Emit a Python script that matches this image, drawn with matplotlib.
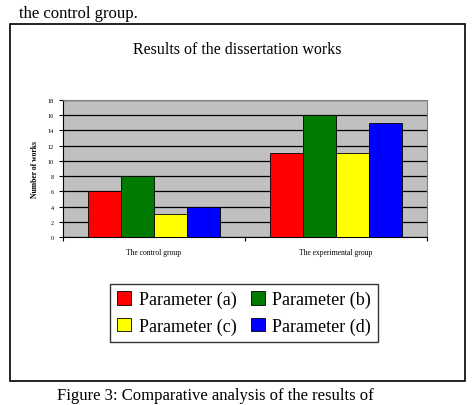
import matplotlib
matplotlib.use("Agg")
import matplotlib.pyplot as plt
import numpy as np
from matplotlib.patches import Rectangle

categories = ["The control group", "The experimental group"]
series = ["Parameter (a)", "Parameter (b)", "Parameter (c)", "Parameter (d)"]
values = {
    "Parameter (a)": [6, 11],
    "Parameter (b)": [8, 16],
    "Parameter (c)": [3, 11],
    "Parameter (d)": [4, 15],
}
colors = ["#ff0000", "#007a00", "#ffff00", "#0000ff"]
yticks = list(range(0, 19, 2))

plt.rcParams['font.family'] = ['Liberation Serif', 'DejaVu Serif']
fig = plt.figure(figsize=(4.74, 4.06), dpi=100)
fig.patch.set_facecolor("white")
fig.patches.append(Rectangle((10/474, 1-382/406), 455/474, 357/406, transform=fig.transFigure,
                             fill=False, edgecolor="black", linewidth=1.2))
fig.text(0.04, 0.985, "the control group.", fontsize=12, va="top")
fig.text(0.12, 0.005, "Figure 3: Comparative analysis of the results of", fontsize=12, va="bottom")
fig.text(0.5, 1-50/406, "Results of the dissertation works", ha="center", va="center", fontsize=11.5)

ax = fig.add_axes([63/474, 1-238/406, 364/474, 137/406])
ax.set_facecolor("#c0c0c0")
x = np.arange(len(categories))
w = 0.182
for i, (s, c) in enumerate(zip(series, colors)):
    ax.bar(x + (i - 1.5) * w, values[s], w, color=c, edgecolor="black", linewidth=0.6, label=s, zorder=3)
ax.set_xlim(-0.5, 1.5)
ax.set_ylim(0, 18)
ax.set_yticks(yticks)
ax.set_yticklabels([str(t) for t in yticks], fontsize=4.5)
ax.yaxis.grid(True, color="black", linewidth=0.9, zorder=0)
ax.set_xticks([-0.5, 0.5, 1.5])
ax.set_xticklabels([])
ax.set_xticks(x, minor=True)
ax.set_xticklabels(categories, minor=True, fontsize=5.5)
ax.tick_params(axis="x", which="minor", length=0, pad=8)
ax.tick_params(axis="both", which="major", length=3, width=0.8)
ax.set_ylabel("Number of works", fontsize=5.5, fontweight="bold", labelpad=6)
for sp in ax.spines.values():
    sp.set_linewidth(0.8)
ax.spines['top'].set_color("#808080")
ax.spines['right'].set_color("#808080")

h, l = ax.get_legend_handles_labels()
order = [0, 2, 1, 3]
fig.legend([h[i] for i in order], [l[i] for i in order], loc="center",
           bbox_to_anchor=(0.515, 1-314/406), ncol=2, fontsize=13,
           frameon=True, fancybox=False, edgecolor="black", handlelength=0.8, handleheight=0.8,
           columnspacing=0.8, handletextpad=0.4, borderpad=0.4, labelspacing=0.5)
fig.savefig("out.png", dpi=100)
